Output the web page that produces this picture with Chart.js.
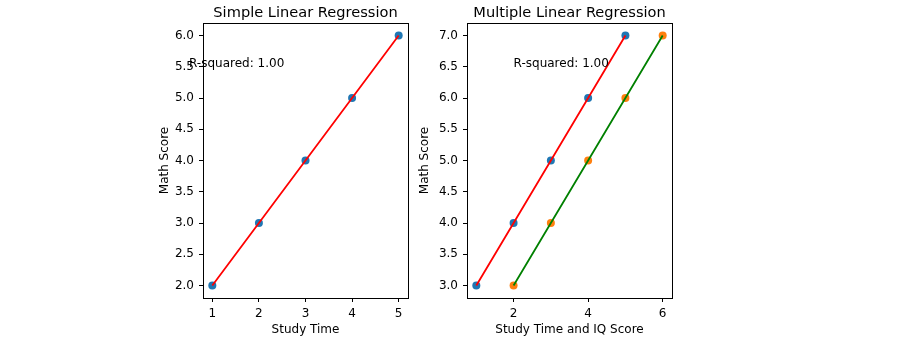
<!DOCTYPE html>
<html>
<head>
<meta charset="utf-8">
<script src="https://cdn.jsdelivr.net/npm/chart.js@4"></script>
<style>
  body { margin: 0; background: #fff; width: 897px; height: 342px; position: relative; overflow: hidden; }
  .panel { position: absolute; top: 0; width: 270px; height: 342px; }
</style>
</head>
<body>
<div class="panel" style="left:150px"><canvas id="simple" width="270" height="342"></canvas></div>
<div class="panel" style="left:410px"><canvas id="multiple" width="270" height="342"></canvas></div>
<script>
// --- data ---
const studyTime = [1, 2, 3, 4, 5];
const mathScore = [2, 3, 4, 5, 6];
const simpleFit = [2, 3, 4, 5, 6];

const multiStudy = [1, 2, 3, 4, 5];
const multiIq = [2, 3, 4, 5, 6];
const multiScore = [3, 4, 5, 6, 7];
const fitStudy = [3, 4, 5, 6, 7];
const fitIq = [3, 4, 5, 6, 7];

const simpleXTicks = [1, 2, 3, 4, 5];
const simpleYTicks = [2.0, 2.5, 3.0, 3.5, 4.0, 4.5, 5.0, 5.5, 6.0];
const multiXTicks = [2, 4, 6];
const multiYTicks = [3.0, 3.5, 4.0, 4.5, 5.0, 5.5, 6.0, 6.5, 7.0];

// --- helpers ---
const FONT = '"DejaVu Sans", sans-serif';
const pts = (xs, ys) => xs.map((x, i) => ({ x, y: ys[i] }));
// matplotlib style 5% margins
const lim = (vals) => {
  const lo = Math.min(...vals), hi = Math.max(...vals), m = (hi - lo) * 0.05;
  return [lo - m, hi + m];
};

const frame = {
  id: 'frame',
  afterDraw(chart, args, opts) {
    const { ctx, chartArea: a, scales } = chart;
    ctx.save();
    ctx.strokeStyle = '#000';
    ctx.lineWidth = 1;
    ctx.strokeRect(Math.round(a.left) + 0.5, Math.round(a.top) + 0.5,
      Math.round(a.right - a.left), Math.round(a.bottom - a.top));
    ctx.fillStyle = '#000';
    ctx.font = '14.6px ' + FONT;
    ctx.textAlign = 'center';
    ctx.textBaseline = 'alphabetic';
    ctx.fillText(opts.title, (a.left + a.right) / 2, 17);
    ctx.font = '12px ' + FONT;
    ctx.textAlign = 'left';
    ctx.fillText(opts.note, scales.x.getPixelForValue(opts.noteAt[0]), scales.y.getPixelForValue(opts.noteAt[1]));
    ctx.restore();
  }
};

function scatterSet(data, color) {
  return { type: 'scatter', data, backgroundColor: color, borderColor: color,
    pointRadius: 4, pointBorderWidth: 0, pointHoverRadius: 4, order: 2 };
}
function lineSet(data, color) {
  return { type: 'line', data, borderColor: color, borderWidth: 1.8, pointRadius: 0,
    fill: false, tension: 0, order: 1 };
}

function axis(range, ticks, fmt, title, fitSize, horizontal) {
  return {
    type: 'linear',
    min: range[0], max: range[1],
    afterBuildTicks: s => { s.ticks = ticks.map(v => ({ value: v })); },
    afterFit: s => { if (horizontal) s.height = fitSize; else s.width = fitSize; },
    grid: { drawOnChartArea: false, drawTicks: true, tickLength: 4, color: '#000', lineWidth: 1 },
    border: { display: true, color: '#000', width: 1 },
    ticks: { color: '#000', padding: 5, font: { family: FONT, size: 12 }, callback: fmt, maxRotation: 0, autoSkip: false },
    title: { display: true, text: title, color: '#000', font: { family: FONT, size: 12 },
      padding: horizontal ? { top: 0, bottom: 5 } : { top: 8, bottom: 0 } }
  };
}

function makeChart(id, datasets, xr, yr, xt, yt, xFmt, xTitle, yWidth, padRight, title, noteAt) {
  return new Chart(document.getElementById(id), {
    data: { datasets },
    plugins: [frame],
    options: {
      responsive: false,
      animation: false,
      devicePixelRatio: 1,
      layout: { padding: { top: 23, right: padRight, left: 0, bottom: 0 } },
      plugins: {
        legend: { display: false },
        tooltip: { enabled: false },
        frame: { title, note: 'R-squared: 1.00', noteAt }
      },
      scales: {
        x: axis(xr, xt, xFmt, xTitle, 44, true),
        y: axis(yr, yt, v => v.toFixed(1), 'Math Score', yWidth, false)
      }
    }
  });
}

makeChart('simple',
  [scatterSet(pts(studyTime, mathScore), '#1f77b4'), lineSet(pts(studyTime, simpleFit), '#ff0000')],
  lim(studyTime), lim(mathScore), simpleXTicks, simpleYTicks, v => String(v),
  'Study Time', 53, 12, 'Simple Linear Regression', [0.5, 5.5]);

makeChart('multiple',
  [scatterSet(pts(multiStudy, multiScore), '#1f77b4'), scatterSet(pts(multiIq, multiScore), '#ff7f0e'),
   lineSet(pts(multiStudy, fitStudy), '#ff0000'), lineSet(pts(multiIq, fitIq), '#008000')],
  lim(multiStudy.concat(multiIq)), lim(multiScore), multiXTicks, multiYTicks, v => String(v),
  'Study Time and IQ Score', 57, 8, 'Multiple Linear Regression', [2, 6.5]);
</script>
</body>
</html>
